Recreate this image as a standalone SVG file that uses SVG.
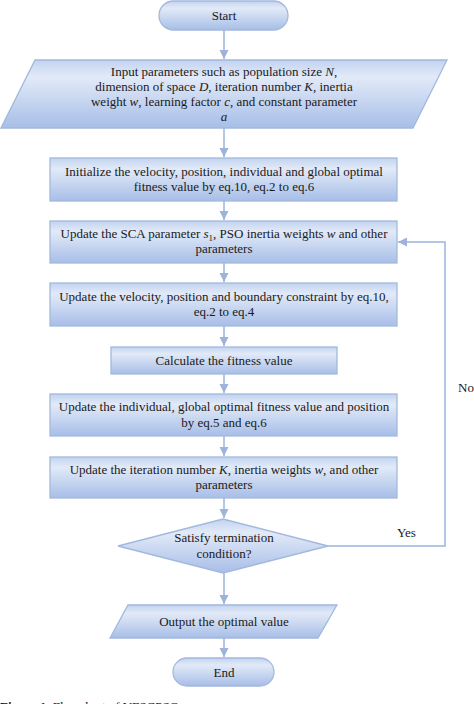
<svg xmlns="http://www.w3.org/2000/svg" width="474" height="704" viewBox="0 0 474 704">
<defs>
<linearGradient id="g" x1="0" y1="0" x2="0" y2="1">
<stop offset="0" stop-color="#c2d3ef"/>
<stop offset="0.25" stop-color="#e2eaf8"/>
<stop offset="1" stop-color="#a7bee7"/>
</linearGradient>
<marker id="ah" markerUnits="userSpaceOnUse" markerWidth="10" markerHeight="10" refX="9" refY="4.5" orient="auto">
<path d="M0,0 L9,4.5 L0,9 z" fill="#9db3dc"/>
</marker>
</defs>
<style>
.n{fill:url(#g);stroke:#a3b8de;stroke-width:1.3}
.t{font-family:"Liberation Serif","Times New Roman",serif;font-size:13px;fill:#1a1a1a;text-anchor:middle}
.l{font-family:"Liberation Serif","Times New Roman",serif;font-size:13px;fill:#1a1a1a}
.c{fill:none;stroke:#9db3dc;stroke-width:1.5}
.i{font-style:italic}
</style>
<rect width="474" height="704" fill="#ffffff"/>
<g id="connectors">
<line class="c" x1="224" y1="30" x2="224" y2="59" marker-end="url(#ah)"/>
<line class="c" x1="224" y1="128" x2="224" y2="157" marker-end="url(#ah)"/>
<line class="c" x1="224" y1="201" x2="224" y2="220" marker-end="url(#ah)"/>
<line class="c" x1="224" y1="263" x2="224" y2="282" marker-end="url(#ah)"/>
<line class="c" x1="224" y1="326" x2="224" y2="346" marker-end="url(#ah)"/>
<line class="c" x1="224" y1="374" x2="224" y2="393" marker-end="url(#ah)"/>
<line class="c" x1="224" y1="436" x2="224" y2="456" marker-end="url(#ah)"/>
<line class="c" x1="224" y1="498" x2="224" y2="518" marker-end="url(#ah)"/>
<line class="c" x1="224" y1="573" x2="224" y2="604" marker-end="url(#ah)"/>
<line class="c" x1="224" y1="638" x2="224" y2="657" marker-end="url(#ah)"/>
<polyline class="c" points="328,546 445,546 445,242 398,242" marker-end="url(#ah)"/>
<text class="l" x="397" y="537">Yes</text>
<text class="l" x="458" y="392">No</text>
</g>
<g id="start">
<rect class="n" x="159" y="1" width="129" height="29" rx="14.5"/>
<text class="t" x="224" y="20">Start</text>
</g>
<g id="input">
<polygon class="n" points="35,60 447,60 413,128 1,128"/>
<text class="t" x="224" y="76">Input parameters such as population size <tspan class="i">N</tspan>,</text>
<text class="t" x="224" y="91">dimension of space <tspan class="i">D</tspan>, iteration number <tspan class="i">K</tspan>, inertia</text>
<text class="t" x="224" y="106">weight <tspan class="i">w</tspan>, learning factor <tspan class="i">c</tspan>, and constant parameter</text>
<text class="t i" x="224" y="121">a</text>
</g>
<g id="init">
<rect class="n" x="50" y="158" width="347" height="43"/>
<text class="t" x="224" y="176">Initialize the velocity, position, individual and global optimal</text>
<text class="t" x="224" y="191">fitness value by eq.10, eq.2 to eq.6</text>
</g>
<g id="updateSCA">
<rect class="n" x="50" y="221" width="347" height="42"/>
<text class="t" x="224" y="238">Update the SCA parameter <tspan class="i">s</tspan><tspan font-size="9" baseline-shift="-3">1</tspan>, PSO inertia weights <tspan class="i">w</tspan> and other</text>
<text class="t" x="224" y="253">parameters</text>
</g>
<g id="updateVel">
<rect class="n" x="50" y="283" width="347" height="43"/>
<text class="t" x="224" y="301">Update the velocity, position and boundary constraint by eq.10,</text>
<text class="t" x="224" y="316">eq.2 to eq.4</text>
</g>
<g id="fitness">
<rect class="n" x="111" y="347" width="226" height="27"/>
<text class="t" x="224" y="365">Calculate the fitness value</text>
</g>
<g id="updateInd">
<rect class="n" x="50" y="394" width="347" height="42"/>
<text class="t" x="224" y="411">Update the individual, global optimal fitness value and position</text>
<text class="t" x="224" y="427">by eq.5 and eq.6</text>
</g>
<g id="updateIter">
<rect class="n" x="50" y="457" width="347" height="41"/>
<text class="t" x="224" y="474">Update the iteration number <tspan class="i">K</tspan>, inertia weights <tspan class="i">w</tspan>, and other</text>
<text class="t" x="224" y="489">parameters</text>
</g>
<g id="decision">
<polygon class="n" points="118,546 223,519 328,546 223,573"/>
<text class="t" x="224" y="542">Satisfy termination</text>
<text class="t" x="224" y="558">condition?</text>
</g>
<g id="output">
<polygon class="n" points="128,605 337,605 318,638 110,638"/>
<text class="t" x="224" y="626">Output the optimal value</text>
</g>
<g id="end">
<rect class="n" x="173" y="658" width="101" height="28" rx="14"/>
<text class="t" x="224" y="677">End</text>
</g>
<text class="l" x="0" y="711" font-size="14"><tspan font-weight="bold">Figure 1.</tspan> Flowchart of VFSCPSO</text>
</svg>
